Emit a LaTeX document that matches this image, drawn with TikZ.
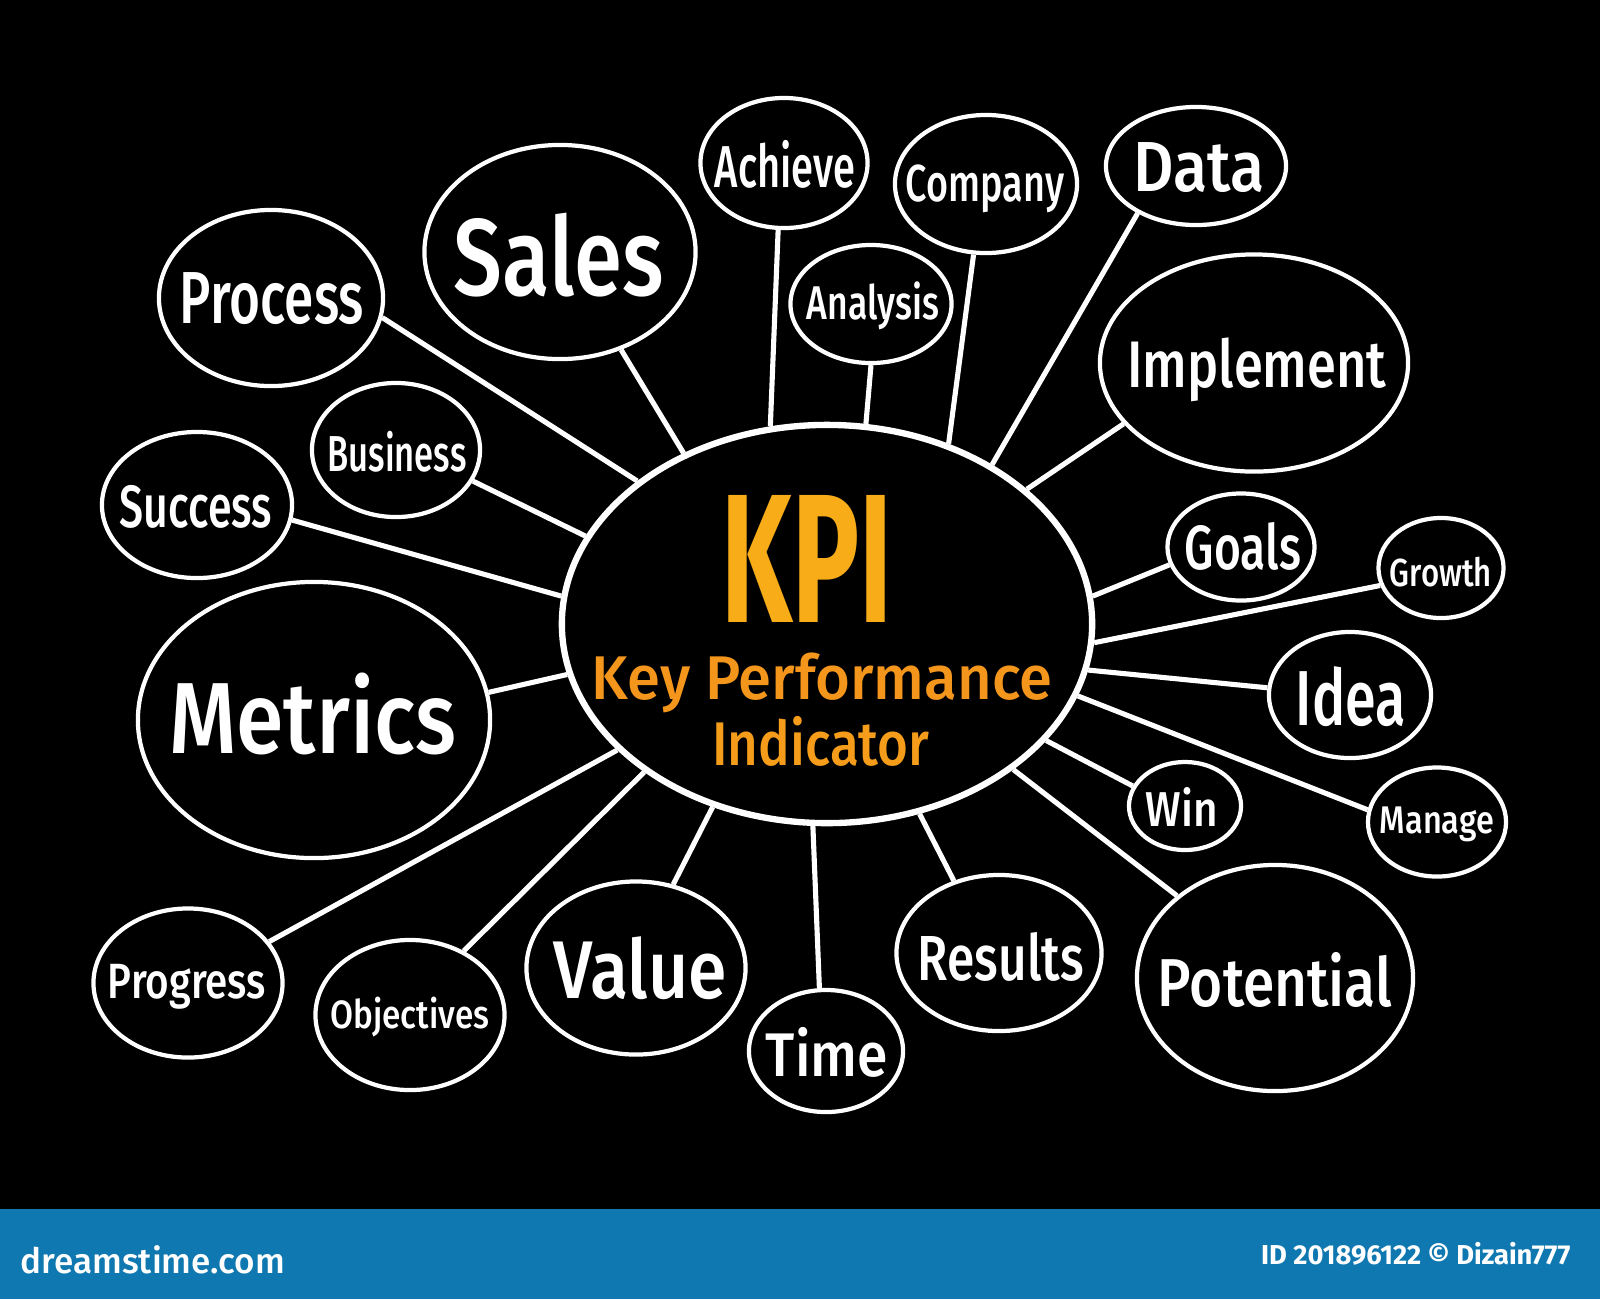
\documentclass[tikz,border=0pt]{standalone}
\usepackage{fontspec}
\usepackage{graphicx}
\setmainfont{Fira Sans}[UprightFont=* Medium, BoldFont=* Bold]
\usetikzlibrary{shapes.geometric}
\definecolor{barblue}{HTML}{1078B0}
\definecolor{kpiA}{HTML}{F8AC18}
\definecolor{kpiB}{HTML}{F5961C}
\definecolor{kpiC}{HTML}{F59D1A}
\tikzset{
  bubble/.style={ellipse, draw=white, line width=1.2pt, fill=black, inner sep=0pt},
  word/.style={text=white, inner sep=0pt},
  link/.style={draw=white, line width=1.45pt},
}
% bubble: name, x, y, width(cm), height(cm)
\newcommand{\mybub}[5]{%
  \node[bubble, minimum width=#4cm, minimum height=#5cm] (#1) at (#2,#3) {};}
% text: name, x, y, width(cm), total height(cm), text
\newcommand{\mytxt}[6]{%
  \node[word] (#1-t) at (#2,#3) {\resizebox*{#4cm}{#5cm}{#6}};}
\begin{document}
\begin{tikzpicture}[x=0.01cm,y=-0.01cm]
\fill[black] (0,0) rectangle (1600,1299);
\useasboundingbox (0,0) rectangle (1600,1299);
\fill[barblue] (0,1209) rectangle (1600,1299);

% central node
\node[ellipse, draw=white, line width=1.8pt, fill=black, inner sep=0pt,
      minimum width=5.30cm, minimum height=3.98cm] (kpi) at (827,624) {};
\node[inner sep=0pt, text=kpiA] (kpi-t1) at (807,559) {\resizebox*{1.71cm}{1.27cm}{\bfseries KPI}};
\node[inner sep=0pt, text=kpiB] (kpi-t2) at (822,683) {\resizebox*{4.60cm}{0.60cm}{Key Performance}};
\node[inner sep=0pt, text=kpiC] (kpi-t3) at (821,741) {\resizebox*{2.17cm}{0.50cm}{Indicator}};

% satellites
\mybub{process}{271}{298}{2.24}{1.76}
\mybub{sales}{560}{252}{2.71}{2.14}
\mybub{achieve}{784}{163}{1.67}{1.30}
\mybub{company}{986}{184}{1.82}{1.38}
\mybub{data}{1196}{166}{1.80}{1.18}
\mybub{analysis}{871}{304}{1.61}{1.18}
\mybub{implement}{1254}{363}{3.08}{2.17}
\mybub{business}{396}{450}{1.68}{1.34}
\mybub{success}{197}{505}{1.90}{1.46}
\mybub{goals}{1241}{547}{1.47}{1.07}
\mybub{growth}{1441}{568}{1.25}{1.00}
\mybub{metrics}{314}{720}{3.52}{2.76}
\mybub{idea}{1350}{695}{1.62}{1.26}
\mybub{win}{1185}{806}{1.12}{0.88}
\mybub{manage}{1437}{822}{1.38}{1.09}
\mybub{progress}{188}{983}{1.89}{1.49}
\mybub{objectives}{410}{1015}{1.89}{1.50}
\mybub{value}{636}{968}{2.19}{1.73}
\mybub{time}{826}{1051}{1.54}{1.22}
\mybub{results}{999}{953}{2.05}{1.56}
\mybub{potential}{1275}{978}{2.76}{2.26}

% labels
\mytxt{process}{272}{299}{1.84}{0.52}{Process}
\mytxt{sales}{559}{255}{2.10}{0.84}{Sales}
\mytxt{achieve}{785}{164}{1.40}{0.48}{Achieve}
\mytxt{company}{985}{189}{1.58}{0.48}{Company}
\mytxt{data}{1199}{168}{1.31}{0.50}{Data}
\mytxt{analysis}{873}{306}{1.32}{0.48}{Analysis}
\mytxt{implement}{1257}{370}{2.59}{0.64}{Implement}
\mytxt{business}{397}{452}{1.39}{0.41}{Business}
\mytxt{success}{196}{507}{1.52}{0.43}{Success}
\mytxt{goals}{1243}{546}{1.16}{0.48}{Goals}
\mytxt{growth}{1441}{572}{1.02}{0.30}{Growth}
\mytxt{metrics}{313}{714}{2.87}{0.82}{Metrics}
\mytxt{idea}{1351}{697}{1.10}{0.60}{Idea}
\mytxt{win}{1182}{807}{0.72}{0.39}{Win}
\mytxt{manage}{1437}{824}{1.14}{0.35}{Manage}
\mytxt{progress}{187}{987}{1.58}{0.45}{Progress}
\mytxt{objectives}{410}{1017}{1.59}{0.40}{Objectives}
\mytxt{value}{640}{968}{1.73}{0.63}{Value}
\mytxt{time}{827}{1052}{1.22}{0.50}{Time}
\mytxt{results}{1001}{957}{1.66}{0.49}{Results}
\mytxt{potential}{1275}{980}{2.34}{0.55}{Potential}

% connectors
\draw[link] (process.-10) -- (kpi.143);
\draw[link] (sales.-58) -- (kpi.130);
\draw[link] (achieve.-95) -- (kpi.106);
\draw[link] (analysis.-90) -- (kpi.79);
\draw[link] (company.-100) -- (kpi.56);
\draw[link] (data.-141) -- (kpi.44);
\draw[link] (implement.-155) -- (kpi.34);
\draw[link] (business.-22) -- (kpi.160);
\draw[link] (success.-9) -- (kpi.174);
\draw[link] (goals.-166) -- (kpi.6);
\draw[link] (growth.-164) -- (kpi.-4);
\draw[link] (metrics.9) -- (kpi.191);
\draw[link] (idea.175) -- (kpi.-10);
\draw[link] (win.159) -- (kpi.-28);
\draw[link] (manage.170) -- (kpi.-16);
\draw[link] (potential.140) -- (kpi.-38);
\draw[link] (results.122) -- (kpi.-64);
\draw[link] (time.96) -- (kpi.-94);
\draw[link] (value.66) -- (kpi.-122);
\draw[link] (objectives.50) -- (kpi.-141);
\draw[link] (progress.27) -- (kpi.-149);

% footer bar texts
\node[word, anchor=west] (site) at (20,1260) {\resizebox{2.64cm}{!}{dreamstime.com}};
\node[word, anchor=east] (credit) at (1571,1254) {\resizebox{3.09cm}{!}{\bfseries ID 201896122 © Dizain777}};
\end{tikzpicture}
\end{document}
